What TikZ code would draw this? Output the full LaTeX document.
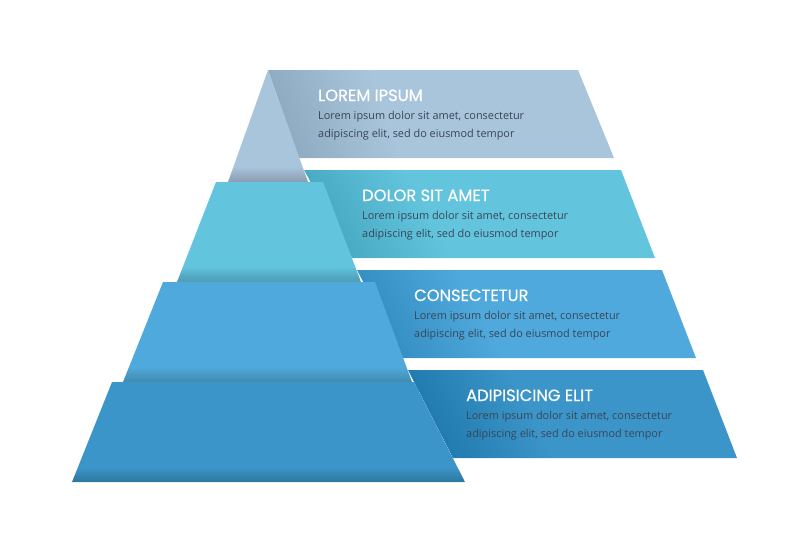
\documentclass[tikz,border=0pt]{standalone}
\usepackage{fontspec}
\setmainfont{Open Sans}
\newfontfamily\headfont{Poppins}[FakeBold=0.5]
\usetikzlibrary{positioning}

\definecolor{tierA}{HTML}{A8C5DC}
\definecolor{tierB}{HTML}{63C4DE}
\definecolor{tierC}{HTML}{4FA9DC}
\definecolor{tierD}{HTML}{3C95C9}
\definecolor{inkgrey}{HTML}{3A4656}

\begin{document}
\begin{tikzpicture}[
    x=1pt,y=-1pt,
    tier/.style={
        path picture={
            \foreach \h in {1,2,...,14}
                \fill[black,opacity=.012] ([yshift=\h pt]path picture bounding box.south west)
                    rectangle (path picture bounding box.south east);
        }
    },
    headline/.style={inner sep=0pt,anchor=base west,text=white,
        font=\headfont\fontsize{16.3}{18}\selectfont},
    blurb/.style={inner sep=0pt,align=left,text=inkgrey,
        font=\fontsize{10.9}{18}\selectfont}
]
\useasboundingbox (0,0) rectangle (800,544);
\fill[white] (0,0) rectangle (800,544);

% bands on the right, shadow along the pyramid edge
\foreach \yt/\xa/\xb/\xc/\xd/\tone in {70/268/578/614/299/tierA,
        170/304/621/655/352/tierB, 270/357/662/696/403/tierC,
        370/408/703/737/453/tierD}{
    \fill[\tone] (\xa,\yt) -- (\xb,\yt) -- (\xc,\yt+88) -- (\xd,\yt+88) -- cycle;
    \foreach \w in {4,8,...,100}
        \fill[black,opacity=.0055] (\xa,\yt) -- (\xa+\w,\yt) -- (\xd+\w,\yt+88) -- (\xd,\yt+88) -- cycle;
}

% pyramid
\fill[tierA,tier] (268,70) -- (308,182) -- (228,182) -- cycle;
\fill[tierB,tier] (216,182) -- (323,182) -- (361,282) -- (177,282) -- cycle;
\fill[tierC,tier] (163,282) -- (375,282) -- (412,382) -- (123,382) -- cycle;
\fill[tierD,tier] (112,382) -- (414,382) -- (465,482) -- (72,482) -- cycle;

% labels
\node[headline] (lorem) at (318,101) {LOREM IPSUM};
\node[blurb,below=10pt of lorem.south west,anchor=north west] (loremtxt)
    {Lorem ipsum dolor sit amet, consectetur\\adipiscing elit, sed do eiusmod tempor};
\node[headline] (dolor) at (362,201) {DOLOR SIT AMET};
\node[blurb,below=10pt of dolor.south west,anchor=north west] (dolortxt)
    {Lorem ipsum dolor sit amet, consectetur\\adipiscing elit, sed do eiusmod tempor};
\node[headline] (consect) at (414,301) {CONSECTETUR};
\node[blurb,below=10pt of consect.south west,anchor=north west] (consecttxt)
    {Lorem ipsum dolor sit amet, consectetur\\adipiscing elit, sed do eiusmod tempor};
\node[headline] (adipis) at (466,401) {ADIPISICING ELIT};
\node[blurb,below=10pt of adipis.south west,anchor=north west] (adipistxt)
    {Lorem ipsum dolor sit amet, consectetur\\adipiscing elit, sed do eiusmod tempor};
\end{tikzpicture}
\end{document}
